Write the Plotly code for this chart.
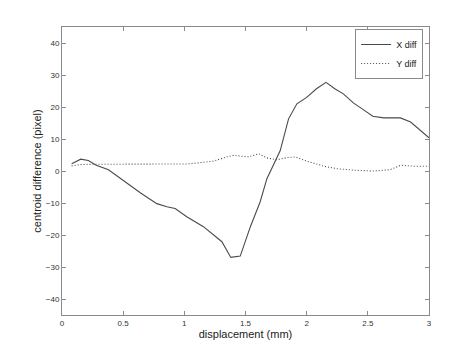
import plotly.graph_objects as go

x_diff_x = [0.079, 0.153, 0.215, 0.28, 0.38, 0.53, 0.64, 0.775, 0.857, 0.925, 1.02, 1.156, 1.24, 1.307,
            1.38, 1.457, 1.54, 1.62, 1.675, 1.784, 1.852, 1.92, 2.0, 2.08, 2.158, 2.23, 2.30, 2.384,
            2.466, 2.54, 2.63, 2.766, 2.85, 3.0]
x_diff_y = [2.3, 3.7, 3.3, 1.8, 0.4, -3.9, -6.8, -10.2, -11.2, -11.7, -14.3, -17.4, -20.0, -22.1,
            -27.0, -26.6, -17.4, -9.6, -2.4, 6.4, 16.3, 21.0, 23.0, 25.7, 27.7, 25.7, 24.1, 21.2,
            19.1, 17.1, 16.6, 16.6, 15.3, 10.4]

y_diff_x = [0.079, 0.15, 0.256, 0.38, 0.52, 0.64, 0.775, 0.9, 1.02, 1.13, 1.24, 1.32, 1.40, 1.47,
            1.525, 1.607, 1.675, 1.757, 1.84, 1.907, 2.0, 2.14, 2.25, 2.41, 2.55, 2.68, 2.77, 2.88, 3.0]
y_diff_y = [1.6, 2.0, 2.1, 2.1, 2.3, 2.3, 2.1, 2.2, 2.2, 2.6, 3.1, 4.1, 4.9, 4.6,
            4.4, 5.4, 4.1, 3.5, 4.2, 4.4, 3.1, 1.5, 0.7, 0.2, 0.0, 0.4, 1.8, 1.5, 1.5]

x_ticks = [0, 0.5, 1, 1.5, 2, 2.5, 3]
x_tick_labels = ["0", "0.5", "1", "1.5", "2", "2.5", "3"]
y_ticks = [-40, -30, -20, -10, 0, 10, 20, 30, 40]

fig = go.Figure()
fig.add_trace(go.Scatter(x=x_diff_x, y=x_diff_y, mode="lines", name="X diff",
                         line=dict(color="#4a4a4a", width=1.1)))
fig.add_trace(go.Scatter(x=y_diff_x, y=y_diff_y, mode="lines", name="Y diff",
                         line=dict(color="#4a4a4a", width=1.1, dash="1px,2px")))

axis_common = dict(showgrid=False, zeroline=False, showline=True, linecolor="#8a8a8a", linewidth=1,
                   mirror="allticks", ticks="inside", ticklen=4, tickcolor="#8a8a8a", automargin=False,
                   tickfont=dict(family="Liberation Sans, Arial", size=8, color="#333333"))

# page body has an 8px default margin; sizes below compensate so the axes land where the reference has them
fig.update_layout(
    width=458, height=339,
    paper_bgcolor="white", plot_bgcolor="white",
    margin=dict(l=54, r=37, t=19, b=32, autoexpand=False),
    font=dict(family="Liberation Sans, Arial", color="#222222"),
    xaxis=dict(range=[0, 3], tickvals=x_ticks, ticktext=x_tick_labels,
               title=dict(text="displacement (mm)", font=dict(size=11), standoff=2), **axis_common),
    yaxis=dict(range=[-45, 45], tickvals=y_ticks,
               title=dict(text="centroid difference (pixel)", font=dict(size=11), standoff=1), **axis_common),
    legend=dict(x=0.984, y=0.993, xanchor="right", yanchor="top", bgcolor="white",
                bordercolor="#8a8a8a", borderwidth=1, font=dict(size=9, color="#222222"),
                tracegroupgap=0, itemwidth=30),
    showlegend=True,
)

fig.write_html("out.html")
